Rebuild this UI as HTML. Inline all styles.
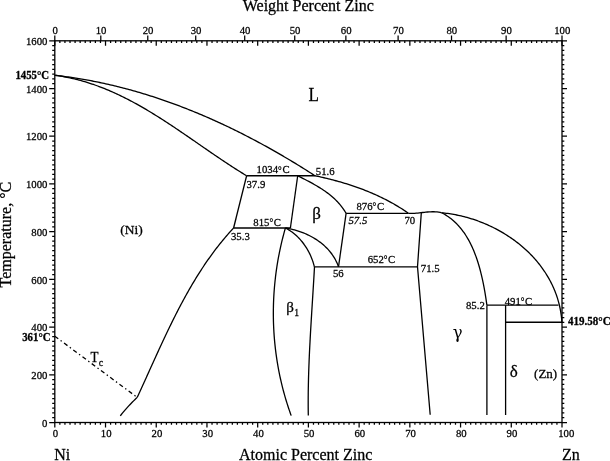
<!DOCTYPE html>
<html><head><meta charset="utf-8"><title>Ni-Zn Phase Diagram</title>
<style>
html,body{margin:0;padding:0;background:#fff;}
body{width:610px;height:461px;overflow:hidden;}
svg{display:block;}
</style></head><body>
<svg width="610" height="461" viewBox="0 0 610 461">
<rect width="610" height="461" fill="#fff"/>
<g fill="none" stroke="#000" stroke-width="1.3" stroke-linejoin="round">
<path d="M54.8,75.3 L56.31,75.47 L57.83,75.65 L59.34,75.83 L60.85,76.01 L62.36,76.2 L63.87,76.39 L65.38,76.59 L66.88,76.8 L68.39,77.01 L69.89,77.22 L71.4,77.44 L72.9,77.66 L74.4,77.89 L75.9,78.13 L77.4,78.36 L78.9,78.61 L80.4,78.86 L81.89,79.11 L83.39,79.37 L84.88,79.63 L86.37,79.89 L87.86,80.16 L89.35,80.44 L90.84,80.72 L92.33,81.01 L93.81,81.3 L95.3,81.59 L96.78,81.89 L98.27,82.19 L99.75,82.5 L101.23,82.81 L102.71,83.13 L104.19,83.45 L105.66,83.78 L107.14,84.11 L108.62,84.44 L110.09,84.78 L111.56,85.13 L113.03,85.47 L114.5,85.83 L115.97,86.18 L117.44,86.54 L118.91,86.91 L120.37,87.28 L121.83,87.65 L123.3,88.03 L124.76,88.41 L126.22,88.8 L127.68,89.19 L129.14,89.59 L130.59,89.99 L132.05,90.39 L133.5,90.8 L134.96,91.21 L136.41,91.63 L137.86,92.05 L139.31,92.47 L140.76,92.9 L142.2,93.33 L143.65,93.77 L145.09,94.21 L146.54,94.65 L147.98,95.1 L149.42,95.56 L150.86,96.01 L152.3,96.47 L153.73,96.94 L155.17,97.41 L156.6,97.88 L158.04,98.36 L159.47,98.84 L160.9,99.32 L162.33,99.81 L163.76,100.3 L165.18,100.79 L166.61,101.29 L168.03,101.8 L169.46,102.3 L170.88,102.81 L172.3,103.33 L173.72,103.85 L175.14,104.37 L176.55,104.89 L177.97,105.42 L179.38,105.96 L180.79,106.49 L182.2,107.03 L183.61,107.58 L185.02,108.12 L186.43,108.67 L187.84,109.23 L189.24,109.79 L190.64,110.35 L192.05,110.91 L193.45,111.48 L194.85,112.05 L196.24,112.63 L197.64,113.21 L199.04,113.79 L200.43,114.38 L201.82,114.97 L203.21,115.56 L204.6,116.15 L205.99,116.75 L207.38,117.36 L208.76,117.96 L210.15,118.57 L211.53,119.18 L212.91,119.8 L214.29,120.42 L215.67,121.04 L217.05,121.66 L218.43,122.29 L219.8,122.93 L221.18,123.56 L222.55,124.2 L223.92,124.84 L225.29,125.48 L226.66,126.13 L228.02,126.78 L229.39,127.44 L230.75,128.09 L232.11,128.75 L233.47,129.41 L234.83,130.08 L236.19,130.75 L237.55,131.42 L238.9,132.1 L240.26,132.77 L241.61,133.45 L242.96,134.14 L244.31,134.82 L245.66,135.51 L247.01,136.21 L248.35,136.9 L249.69,137.6 L251.04,138.3 L252.38,139 L253.72,139.71 L255.06,140.42 L256.39,141.13 L257.73,141.84 L259.06,142.56 L260.39,143.28 L261.72,144 L263.05,144.73 L264.38,145.46 L265.71,146.19 L267.03,146.92 L268.36,147.66 L269.68,148.4 L271,149.14 L272.32,149.88 L273.64,150.63 L274.95,151.38 L276.27,152.13 L277.58,152.88 L278.89,153.64 L280.2,154.4 L281.51,155.16 L282.82,155.92 L284.12,156.69 L285.43,157.45 L286.73,158.22 L288.03,159 L289.33,159.77 L290.63,160.55 L291.92,161.33 L293.22,162.11 L294.51,162.9 L295.8,163.68 L297.1,164.47 L298.38,165.27 L299.67,166.06 L300.96,166.86 L302.24,167.65 L303.52,168.45 L304.81,169.26 L306.09,170.06 L307.36,170.87 L308.64,171.68 L309.91,172.49 L311.19,173.3 L312.46,174.11 L313.73,174.93 L315,175.75"/>
<path d="M54.8,75.3 L56.35,75.51 L57.89,75.73 L59.43,75.97 L60.97,76.21 L62.5,76.47 L64.02,76.74 L65.54,77.02 L67.05,77.32 L68.56,77.62 L70.06,77.94 L71.56,78.27 L73.05,78.61 L74.54,78.96 L76.02,79.32 L77.5,79.7 L78.98,80.08 L80.44,80.48 L81.91,80.88 L83.37,81.3 L84.82,81.72 L86.27,82.16 L87.72,82.61 L89.16,83.06 L90.6,83.53 L92.03,84.01 L93.46,84.49 L94.89,84.99 L96.31,85.49 L97.73,86.01 L99.14,86.53 L100.55,87.06 L101.95,87.6 L103.35,88.15 L104.75,88.71 L106.14,89.28 L107.53,89.85 L108.92,90.44 L110.3,91.03 L111.68,91.63 L113.05,92.24 L114.43,92.85 L115.79,93.48 L117.16,94.11 L118.52,94.75 L119.88,95.39 L121.23,96.05 L122.59,96.71 L123.93,97.38 L125.28,98.05 L126.62,98.73 L127.96,99.42 L129.3,100.11 L130.63,100.81 L131.97,101.52 L133.29,102.23 L134.62,102.95 L135.94,103.68 L137.26,104.41 L138.58,105.14 L139.9,105.89 L141.21,106.63 L142.52,107.39 L143.83,108.14 L145.13,108.91 L146.44,109.68 L147.74,110.45 L149.04,111.23 L150.33,112.01 L151.63,112.79 L152.92,113.58 L154.21,114.38 L155.5,115.18 L156.79,115.98 L158.08,116.79 L159.36,117.6 L160.64,118.41 L161.92,119.23 L163.2,120.05 L164.48,120.88 L165.75,121.71 L167.03,122.54 L168.3,123.37 L169.57,124.21 L170.84,125.05 L172.11,125.89 L173.38,126.73 L174.65,127.58 L175.91,128.43 L177.18,129.28 L178.44,130.13 L179.7,130.99 L180.96,131.84 L182.23,132.7 L183.49,133.56 L184.74,134.42 L186,135.28 L187.26,136.14 L188.52,137.01 L189.78,137.87 L191.03,138.74 L192.29,139.61 L193.54,140.47 L194.8,141.34 L196.05,142.21 L197.31,143.07 L198.56,143.94 L199.82,144.81 L201.07,145.68 L202.33,146.54 L203.58,147.41 L204.83,148.28 L206.09,149.14 L207.34,150.01 L208.6,150.87 L209.85,151.73 L211.11,152.59 L212.37,153.45 L213.62,154.31 L214.88,155.17 L216.14,156.02 L217.39,156.88 L218.65,157.73 L219.91,158.58 L221.17,159.43 L222.43,160.27 L223.69,161.12 L224.96,161.96 L226.22,162.79 L227.48,163.63 L228.75,164.46 L230.02,165.29 L231.28,166.12 L232.55,166.94 L233.82,167.76 L235.09,168.58 L236.37,169.39 L237.64,170.2 L238.91,171 L240.19,171.81 L241.47,172.6 L242.75,173.4 L244.03,174.19 L245.31,174.97 L246.6,175.75"/>
<path d="M246.6,175.75 L315,175.75"/>
<path d="M246.6,175.75 L233.6,228"/>
<path d="M233.6,228 L232.56,229.12 L231.52,230.25 L230.49,231.39 L229.47,232.53 L228.46,233.67 L227.45,234.82 L226.45,235.98 L225.46,237.14 L224.48,238.3 L223.5,239.47 L222.53,240.64 L221.56,241.82 L220.6,243 L219.65,244.19 L218.71,245.38 L217.77,246.57 L216.84,247.77 L215.91,248.97 L214.99,250.18 L214.08,251.39 L213.18,252.61 L212.27,253.83 L211.38,255.05 L210.49,256.28 L209.61,257.51 L208.73,258.75 L207.86,259.99 L207,261.23 L206.14,262.48 L205.29,263.73 L204.44,264.98 L203.6,266.24 L202.76,267.5 L201.93,268.76 L201.1,270.03 L200.28,271.3 L199.46,272.58 L198.65,273.86 L197.85,275.14 L197.04,276.42 L196.25,277.71 L195.46,279 L194.67,280.29 L193.89,281.59 L193.11,282.89 L192.34,284.19 L191.57,285.5 L190.8,286.8 L190.04,288.11 L189.29,289.43 L188.54,290.74 L187.79,292.06 L187.04,293.38 L186.31,294.7 L185.57,296.03 L184.84,297.36 L184.11,298.69 L183.39,300.02 L182.67,301.36 L181.95,302.69 L181.23,304.03 L180.52,305.37 L179.82,306.72 L179.11,308.06 L178.41,309.41 L177.72,310.76 L177.02,312.11 L176.33,313.46 L175.64,314.82 L174.96,316.17 L174.28,317.53 L173.6,318.89 L172.92,320.25 L172.24,321.61 L171.57,322.98 L170.9,324.34 L170.24,325.71 L169.57,327.08 L168.91,328.45 L168.25,329.82 L167.59,331.19 L166.94,332.56 L166.28,333.93 L165.63,335.31 L164.98,336.68 L164.33,338.06 L163.69,339.44 L163.04,340.82 L162.4,342.19 L161.76,343.57 L161.12,344.95 L160.48,346.33 L159.84,347.72 L159.2,349.1 L158.57,350.48 L157.93,351.86 L157.3,353.25 L156.67,354.63 L156.04,356.01 L155.41,357.4 L154.78,358.78 L154.15,360.17 L153.52,361.55 L152.9,362.93 L152.27,364.32 L151.64,365.7 L151.02,367.09 L150.39,368.47 L149.76,369.85 L149.14,371.24 L148.51,372.62 L147.89,374 L147.26,375.38 L146.64,376.77 L146.01,378.15 L145.39,379.53 L144.76,380.91 L144.14,382.29 L143.51,383.67 L142.88,385.04 L142.25,386.42 L141.62,387.8 L141,389.17 L140.37,390.55 L139.74,391.92 L139.1,393.29 L138.47,394.66 L137.84,396.03 L137.2,397.4"/>
<path d="M137.2,397.4 L135.99,398.55 L134.79,399.71 L133.61,400.88 L132.43,402.07 L131.27,403.26 L130.12,404.46 L128.98,405.68 L127.85,406.91 L126.74,408.14 L125.64,409.39 L124.54,410.65 L123.47,411.92 L122.4,413.2 L121.34,414.5 L120.3,415.8"/>
<path d="M54.8,336.2 L137.2,397.4" stroke-dasharray="4.3,2.9,1.4,2.9" stroke-width="1.3"/>
<path d="M233.6,228 L290.4,228"/>
<path d="M297.7,175.75 L290.4,228"/>
<path d="M297.7,175.75 L299.08,176.45 L300.45,177.15 L301.84,177.85 L303.22,178.55 L304.61,179.27 L305.99,179.98 L307.38,180.71 L308.76,181.44 L310.14,182.18 L311.51,182.92 L312.88,183.68 L314.25,184.45 L315.6,185.23 L316.95,186.02 L318.3,186.82 L319.63,187.64 L320.95,188.47 L322.26,189.32 L323.55,190.18 L324.84,191.06 L326.1,191.96 L327.35,192.88 L328.59,193.81 L329.81,194.77 L331.01,195.74 L332.19,196.74 L333.35,197.76 L334.48,198.8 L335.6,199.87 L336.69,200.96 L337.76,202.07 L338.8,203.22 L339.81,204.39 L340.8,205.58 L341.76,206.81 L342.69,208.07 L343.59,209.35 L344.46,210.67 L345.3,212.02 L346.1,213.4"/>
<path d="M315,175.75 L316.5,176.07 L317.99,176.39 L319.49,176.72 L320.98,177.06 L322.48,177.4 L323.97,177.75 L325.46,178.1 L326.95,178.46 L328.44,178.83 L329.93,179.2 L331.41,179.58 L332.9,179.96 L334.38,180.35 L335.86,180.75 L337.34,181.16 L338.81,181.57 L340.29,181.99 L341.76,182.42 L343.23,182.85 L344.7,183.29 L346.17,183.74 L347.63,184.2 L349.09,184.66 L350.55,185.13 L352,185.61 L353.45,186.1 L354.9,186.59 L356.35,187.09 L357.79,187.6 L359.23,188.12 L360.67,188.65 L362.1,189.19 L363.53,189.73 L364.96,190.29 L366.38,190.85 L367.8,191.42 L369.21,192 L370.63,192.59 L372.03,193.18 L373.44,193.79 L374.83,194.41 L376.23,195.03 L377.62,195.67 L379.01,196.31 L380.39,196.97 L381.76,197.63 L383.14,198.3 L384.5,198.99 L385.87,199.68 L387.22,200.39 L388.58,201.1 L389.92,201.82 L391.27,202.56 L392.6,203.3 L393.93,204.06 L395.26,204.83 L396.58,205.6 L397.9,206.39 L399.2,207.19 L400.51,208 L401.8,208.82 L403.1,209.66 L404.38,210.5 L405.66,211.35 L406.93,212.22 L408.2,213.1"/>
<path d="M346.1,213.4 L408.2,213.4"/>
<path d="M408.2,213.4 L409.81,213.46 L411.41,213.47 L413.02,213.42 L414.62,213.34 L416.23,213.21 L417.83,213.06 L419.44,212.89 L421.04,212.71 L422.64,212.52 L424.24,212.34 L425.85,212.16 L427.45,212.01 L429.05,211.89 L430.64,211.8 L432.24,211.75 L433.84,211.75 L435.43,211.81 L437.03,211.94 L438.62,212.14 L440.21,212.43 L441.8,212.8"/>
<path d="M441.8,212.8 L443.29,212.94 L444.79,213.11 L446.28,213.28 L447.77,213.48 L449.27,213.69 L450.76,213.92 L452.25,214.16 L453.74,214.42 L455.23,214.69 L456.72,214.99 L458.2,215.29 L459.68,215.62 L461.17,215.96 L462.64,216.31 L464.12,216.68 L465.59,217.07 L467.06,217.47 L468.53,217.89 L469.99,218.32 L471.45,218.77 L472.91,219.24 L474.36,219.72 L475.81,220.21 L477.25,220.72 L478.69,221.24 L480.13,221.78 L481.55,222.34 L482.98,222.9 L484.39,223.49 L485.81,224.09 L487.21,224.7 L488.61,225.33 L490,225.97 L491.39,226.62 L492.77,227.29 L494.14,227.98 L495.5,228.67 L496.86,229.39 L498.21,230.11 L499.55,230.85 L500.89,231.61 L502.21,232.37 L503.53,233.16 L504.83,233.95 L506.13,234.76 L507.42,235.58 L508.7,236.42 L509.97,237.27 L511.23,238.13 L512.48,239 L513.72,239.89 L514.95,240.79 L516.17,241.71 L517.38,242.63 L518.57,243.57 L519.76,244.52 L520.93,245.49 L522.09,246.47 L523.24,247.46 L524.38,248.46 L525.5,249.47 L526.62,250.5 L527.71,251.54 L528.8,252.59 L529.87,253.66 L530.93,254.73 L531.98,255.82 L533.01,256.92 L534.03,258.03 L535.03,259.15 L536.02,260.29 L536.99,261.43 L537.95,262.59 L538.89,263.76 L539.82,264.94 L540.73,266.13 L541.63,267.33 L542.51,268.55 L543.37,269.77 L544.22,271.01 L545.05,272.26 L545.86,273.51 L546.66,274.78 L547.44,276.06 L548.2,277.35 L548.94,278.65 L549.67,279.96 L550.38,281.28 L551.06,282.62 L551.73,283.96 L552.39,285.31 L553.02,286.67 L553.63,288.04 L554.22,289.43 L554.8,290.82 L555.35,292.22 L555.88,293.63 L556.4,295.05 L556.89,296.48 L557.36,297.92 L557.81,299.37 L558.24,300.83 L558.65,302.3 L559.03,303.78 L559.4,305.26 L559.74,306.76 L560.06,308.26 L560.36,309.78 L560.63,311.3 L560.88,312.83 L561.11,314.37 L561.32,315.92 L561.5,317.48 L561.66,319.05 L561.79,320.62 L561.9,322.2"/>
<path d="M441.8,212.8 L443.18,213.54 L444.52,214.31 L445.84,215.11 L447.13,215.94 L448.39,216.8 L449.62,217.69 L450.82,218.6 L451.99,219.54 L453.14,220.51 L454.26,221.51 L455.35,222.53 L456.42,223.57 L457.46,224.64 L458.47,225.73 L459.46,226.85 L460.43,227.99 L461.37,229.14 L462.29,230.32 L463.18,231.52 L464.05,232.74 L464.9,233.98 L465.73,235.24 L466.53,236.51 L467.32,237.8 L468.08,239.11 L468.82,240.43 L469.55,241.77 L470.25,243.13 L470.93,244.49 L471.59,245.87 L472.24,247.27 L472.87,248.67 L473.48,250.09 L474.07,251.52 L474.64,252.95 L475.2,254.4 L475.75,255.86 L476.27,257.32 L476.78,258.79 L477.28,260.27 L477.76,261.76 L478.23,263.25 L478.68,264.75 L479.12,266.25 L479.55,267.75 L479.96,269.26 L480.37,270.78 L480.76,272.29 L481.13,273.81 L481.5,275.33 L481.85,276.85 L482.2,278.37 L482.53,279.89 L482.85,281.41 L483.17,282.93 L483.47,284.44 L483.76,285.96 L484.05,287.47 L484.33,288.98 L484.59,290.48 L484.86,291.98 L485.11,293.48 L485.35,294.97 L485.59,296.45 L485.83,297.93 L486.05,299.4 L486.27,300.86 L486.49,302.32 L486.7,303.76 L486.9,305.2"/>
<path d="M486.9,305.2 L486.9,415"/>
<path d="M421.3,212.9 L417.5,266.8 L430.2,414.8"/>
<path d="M346.1,213.4 L338.5,266.8"/>
<path d="M314.5,266.8 L417.5,266.8"/>
<path d="M285.4,228 L284.98,229.46 L284.57,230.92 L284.17,232.38 L283.78,233.84 L283.39,235.31 L283.01,236.77 L282.64,238.24 L282.27,239.71 L281.91,241.18 L281.56,242.66 L281.22,244.13 L280.88,245.61 L280.55,247.09 L280.23,248.57 L279.91,250.05 L279.6,251.53 L279.3,253.02 L279.01,254.51 L278.73,255.99 L278.45,257.48 L278.18,258.97 L277.91,260.46 L277.66,261.96 L277.41,263.45 L277.17,264.94 L276.93,266.44 L276.71,267.94 L276.49,269.44 L276.28,270.94 L276.07,272.44 L275.87,273.94 L275.68,275.44 L275.5,276.94 L275.33,278.45 L275.16,279.95 L275,281.46 L274.85,282.96 L274.7,284.47 L274.56,285.98 L274.43,287.48 L274.31,288.99 L274.19,290.5 L274.08,292.01 L273.98,293.52 L273.89,295.03 L273.8,296.54 L273.72,298.06 L273.65,299.57 L273.59,301.08 L273.53,302.59 L273.48,304.11 L273.44,305.62 L273.41,307.13 L273.38,308.64 L273.36,310.16 L273.35,311.67 L273.34,313.18 L273.35,314.7 L273.36,316.21 L273.38,317.72 L273.4,319.24 L273.43,320.75 L273.47,322.26 L273.52,323.77 L273.58,325.29 L273.64,326.8 L273.71,328.31 L273.79,329.82 L273.87,331.33 L273.97,332.84 L274.07,334.35 L274.17,335.86 L274.29,337.37 L274.41,338.88 L274.54,340.38 L274.68,341.89 L274.82,343.4 L274.98,344.9 L275.14,346.41 L275.3,347.91 L275.48,349.41 L275.66,350.92 L275.85,352.42 L276.05,353.92 L276.26,355.42 L276.47,356.92 L276.69,358.41 L276.92,359.91 L277.15,361.4 L277.4,362.9 L277.65,364.39 L277.9,365.88 L278.17,367.37 L278.44,368.86 L278.72,370.35 L279.01,371.83 L279.31,373.32 L279.61,374.8 L279.92,376.28 L280.24,377.76 L280.57,379.24 L280.9,380.72 L281.24,382.2 L281.59,383.67 L281.95,385.14 L282.31,386.61 L282.69,388.08 L283.07,389.55 L283.45,391.01 L283.85,392.47 L284.25,393.94 L284.66,395.4 L285.08,396.85 L285.5,398.31 L285.93,399.76 L286.38,401.21 L286.82,402.66 L287.28,404.11 L287.74,405.55 L288.21,406.99 L288.69,408.43 L289.18,409.87 L289.67,411.31 L290.17,412.74 L290.68,414.17 L291.2,415.6"/>
<path d="M285.4,228 L286.78,228.73 L288.14,229.51 L289.46,230.33 L290.76,231.19 L292.03,232.09 L293.27,233.03 L294.48,234 L295.66,235.01 L296.81,236.06 L297.93,237.14 L299.02,238.25 L300.08,239.4 L301.11,240.57 L302.11,241.77 L303.07,243 L304.01,244.26 L304.91,245.53 L305.78,246.84 L306.62,248.16 L307.42,249.51 L308.19,250.87 L308.93,252.25 L309.64,253.65 L310.31,255.07 L310.94,256.5 L311.54,257.94 L312.11,259.4 L312.64,260.86 L313.13,262.33 L313.59,263.82 L314.01,265.31 L314.4,266.8"/>
<path d="M314.5,266.8 L314.42,268.32 L314.33,269.83 L314.24,271.35 L314.16,272.87 L314.07,274.39 L313.98,275.9 L313.89,277.42 L313.8,278.94 L313.71,280.46 L313.62,281.97 L313.52,283.49 L313.43,285.01 L313.34,286.52 L313.24,288.04 L313.15,289.56 L313.06,291.08 L312.96,292.59 L312.87,294.11 L312.77,295.63 L312.68,297.15 L312.58,298.66 L312.49,300.18 L312.39,301.7 L312.3,303.21 L312.2,304.73 L312.11,306.25 L312.01,307.77 L311.92,309.28 L311.82,310.8 L311.73,312.32 L311.63,313.84 L311.54,315.35 L311.45,316.87 L311.35,318.39 L311.26,319.91 L311.17,321.42 L311.08,322.94 L310.99,324.46 L310.9,325.98 L310.81,327.49 L310.72,329.01 L310.63,330.53 L310.55,332.05 L310.46,333.56 L310.38,335.08 L310.29,336.6 L310.21,338.12 L310.13,339.63 L310.05,341.15 L309.97,342.67 L309.89,344.19 L309.81,345.71 L309.73,347.22 L309.66,348.74 L309.58,350.26 L309.51,351.78 L309.44,353.3 L309.37,354.82 L309.3,356.33 L309.24,357.85 L309.17,359.37 L309.11,360.89 L309.05,362.41 L308.99,363.93 L308.93,365.44 L308.88,366.96 L308.82,368.48 L308.77,370 L308.72,371.52 L308.67,373.04 L308.63,374.56 L308.58,376.08 L308.54,377.6 L308.5,379.12 L308.46,380.63 L308.43,382.15 L308.39,383.67 L308.36,385.19 L308.33,386.71 L308.31,388.23 L308.28,389.75 L308.26,391.27 L308.24,392.79 L308.23,394.31 L308.22,395.83 L308.2,397.35 L308.2,398.87 L308.19,400.39 L308.19,401.91 L308.19,403.43 L308.19,404.95 L308.2,406.47 L308.21,407.99 L308.22,409.52 L308.24,411.04 L308.25,412.56 L308.28,414.08 L308.3,415.6"/>
<path d="M285.4,228 L286.91,228.24 L288.43,228.52 L289.95,228.82 L291.47,229.16 L292.98,229.52 L294.5,229.92 L296.01,230.34 L297.51,230.8 L299.01,231.28 L300.5,231.8 L301.98,232.34 L303.46,232.91 L304.92,233.52 L306.37,234.15 L307.81,234.81 L309.23,235.5 L310.64,236.23 L312.03,236.98 L313.4,237.76 L314.75,238.57 L316.09,239.41 L317.4,240.28 L318.69,241.18 L319.96,242.1 L321.2,243.06 L322.41,244.05 L323.6,245.06 L324.76,246.11 L325.89,247.18 L326.99,248.29 L328.06,249.42 L329.09,250.58 L330.09,251.78 L331.06,253 L331.99,254.25 L332.88,255.53 L333.73,256.83 L334.54,258.17 L335.31,259.54 L336.04,260.93 L336.72,262.35 L337.36,263.81 L337.95,265.29 L338.5,266.8"/>
<path d="M486.9,305.2 L558.4,305.2"/>
<path d="M505.6,305.2 L505.6,415"/>
<path d="M505.6,322.25 L562,322.25"/>
</g>
<path d="M54.8,422.5 v5 M59.87,422.5 v2.3 M64.94,422.5 v2.3 M70.02,422.5 v2.3 M75.09,422.5 v2.3 M80.16,422.5 v2.3 M85.23,422.5 v2.3 M90.3,422.5 v2.3 M95.38,422.5 v2.3 M100.45,422.5 v2.3 M105.52,422.5 v5 M110.59,422.5 v2.3 M115.66,422.5 v2.3 M120.74,422.5 v2.3 M125.81,422.5 v2.3 M130.88,422.5 v2.3 M135.95,422.5 v2.3 M141.02,422.5 v2.3 M146.1,422.5 v2.3 M151.17,422.5 v2.3 M156.24,422.5 v5 M161.31,422.5 v2.3 M166.38,422.5 v2.3 M171.46,422.5 v2.3 M176.53,422.5 v2.3 M181.6,422.5 v2.3 M186.67,422.5 v2.3 M191.74,422.5 v2.3 M196.82,422.5 v2.3 M201.89,422.5 v2.3 M206.96,422.5 v5 M212.03,422.5 v2.3 M217.1,422.5 v2.3 M222.18,422.5 v2.3 M227.25,422.5 v2.3 M232.32,422.5 v2.3 M237.39,422.5 v2.3 M242.46,422.5 v2.3 M247.54,422.5 v2.3 M252.61,422.5 v2.3 M257.68,422.5 v5 M262.75,422.5 v2.3 M267.82,422.5 v2.3 M272.9,422.5 v2.3 M277.97,422.5 v2.3 M283.04,422.5 v2.3 M288.11,422.5 v2.3 M293.18,422.5 v2.3 M298.26,422.5 v2.3 M303.33,422.5 v2.3 M308.4,422.5 v5 M313.47,422.5 v2.3 M318.54,422.5 v2.3 M323.62,422.5 v2.3 M328.69,422.5 v2.3 M333.76,422.5 v2.3 M338.83,422.5 v2.3 M343.9,422.5 v2.3 M348.98,422.5 v2.3 M354.05,422.5 v2.3 M359.12,422.5 v5 M364.19,422.5 v2.3 M369.26,422.5 v2.3 M374.34,422.5 v2.3 M379.41,422.5 v2.3 M384.48,422.5 v2.3 M389.55,422.5 v2.3 M394.62,422.5 v2.3 M399.7,422.5 v2.3 M404.77,422.5 v2.3 M409.84,422.5 v5 M414.91,422.5 v2.3 M419.98,422.5 v2.3 M425.06,422.5 v2.3 M430.13,422.5 v2.3 M435.2,422.5 v2.3 M440.27,422.5 v2.3 M445.34,422.5 v2.3 M450.42,422.5 v2.3 M455.49,422.5 v2.3 M460.56,422.5 v5 M465.63,422.5 v2.3 M470.7,422.5 v2.3 M475.78,422.5 v2.3 M480.85,422.5 v2.3 M485.92,422.5 v2.3 M490.99,422.5 v2.3 M496.06,422.5 v2.3 M501.14,422.5 v2.3 M506.21,422.5 v2.3 M511.28,422.5 v5 M516.35,422.5 v2.3 M521.42,422.5 v2.3 M526.5,422.5 v2.3 M531.57,422.5 v2.3 M536.64,422.5 v2.3 M541.71,422.5 v2.3 M546.78,422.5 v2.3 M551.86,422.5 v2.3 M556.93,422.5 v2.3 M562,422.5 v5 M54.8,40.8 v5 M59.87,40.8 v2.3 M64.94,40.8 v2.3 M70.02,40.8 v2.3 M75.09,40.8 v2.3 M80.16,40.8 v2.3 M85.23,40.8 v2.3 M90.3,40.8 v2.3 M95.38,40.8 v2.3 M100.45,40.8 v2.3 M105.52,40.8 v5 M110.59,40.8 v2.3 M115.66,40.8 v2.3 M120.74,40.8 v2.3 M125.81,40.8 v2.3 M130.88,40.8 v2.3 M135.95,40.8 v2.3 M141.02,40.8 v2.3 M146.1,40.8 v2.3 M151.17,40.8 v2.3 M156.24,40.8 v5 M161.31,40.8 v2.3 M166.38,40.8 v2.3 M171.46,40.8 v2.3 M176.53,40.8 v2.3 M181.6,40.8 v2.3 M186.67,40.8 v2.3 M191.74,40.8 v2.3 M196.82,40.8 v2.3 M201.89,40.8 v2.3 M206.96,40.8 v5 M212.03,40.8 v2.3 M217.1,40.8 v2.3 M222.18,40.8 v2.3 M227.25,40.8 v2.3 M232.32,40.8 v2.3 M237.39,40.8 v2.3 M242.46,40.8 v2.3 M247.54,40.8 v2.3 M252.61,40.8 v2.3 M257.68,40.8 v5 M262.75,40.8 v2.3 M267.82,40.8 v2.3 M272.9,40.8 v2.3 M277.97,40.8 v2.3 M283.04,40.8 v2.3 M288.11,40.8 v2.3 M293.18,40.8 v2.3 M298.26,40.8 v2.3 M303.33,40.8 v2.3 M308.4,40.8 v5 M313.47,40.8 v2.3 M318.54,40.8 v2.3 M323.62,40.8 v2.3 M328.69,40.8 v2.3 M333.76,40.8 v2.3 M338.83,40.8 v2.3 M343.9,40.8 v2.3 M348.98,40.8 v2.3 M354.05,40.8 v2.3 M359.12,40.8 v5 M364.19,40.8 v2.3 M369.26,40.8 v2.3 M374.34,40.8 v2.3 M379.41,40.8 v2.3 M384.48,40.8 v2.3 M389.55,40.8 v2.3 M394.62,40.8 v2.3 M399.7,40.8 v2.3 M404.77,40.8 v2.3 M409.84,40.8 v5 M414.91,40.8 v2.3 M419.98,40.8 v2.3 M425.06,40.8 v2.3 M430.13,40.8 v2.3 M435.2,40.8 v2.3 M440.27,40.8 v2.3 M445.34,40.8 v2.3 M450.42,40.8 v2.3 M455.49,40.8 v2.3 M460.56,40.8 v5 M465.63,40.8 v2.3 M470.7,40.8 v2.3 M475.78,40.8 v2.3 M480.85,40.8 v2.3 M485.92,40.8 v2.3 M490.99,40.8 v2.3 M496.06,40.8 v2.3 M501.14,40.8 v2.3 M506.21,40.8 v2.3 M511.28,40.8 v5 M516.35,40.8 v2.3 M521.42,40.8 v2.3 M526.5,40.8 v2.3 M531.57,40.8 v2.3 M536.64,40.8 v2.3 M541.71,40.8 v2.3 M546.78,40.8 v2.3 M551.86,40.8 v2.3 M556.93,40.8 v2.3 M562,40.8 v5 M54.8,40.8 v-5.2 M100.8,40.8 v-5.2 M147.77,40.8 v-5.2 M195.72,40.8 v-5.2 M244.7,40.8 v-5.2 M294.73,40.8 v-5.2 M345.86,40.8 v-5.2 M398.11,40.8 v-5.2 M451.52,40.8 v-5.2 M506.14,40.8 v-5.2 M562,40.8 v-5.2 M54.8,422.5 h-5.6 M54.8,417.73 h-2.6 M54.8,412.96 h-2.6 M54.8,408.19 h-2.6 M54.8,403.42 h-2.6 M54.8,398.64 h-2.6 M54.8,393.87 h-2.6 M54.8,389.1 h-2.6 M54.8,384.33 h-2.6 M54.8,379.56 h-2.6 M54.8,374.79 h-5.6 M54.8,370.02 h-2.6 M54.8,365.25 h-2.6 M54.8,360.47 h-2.6 M54.8,355.7 h-2.6 M54.8,350.93 h-2.6 M54.8,346.16 h-2.6 M54.8,341.39 h-2.6 M54.8,336.62 h-2.6 M54.8,331.85 h-2.6 M54.8,327.07 h-5.6 M54.8,322.3 h-2.6 M54.8,317.53 h-2.6 M54.8,312.76 h-2.6 M54.8,307.99 h-2.6 M54.8,303.22 h-2.6 M54.8,298.45 h-2.6 M54.8,293.68 h-2.6 M54.8,288.9 h-2.6 M54.8,284.13 h-2.6 M54.8,279.36 h-5.6 M54.8,274.59 h-2.6 M54.8,269.82 h-2.6 M54.8,265.05 h-2.6 M54.8,260.28 h-2.6 M54.8,255.51 h-2.6 M54.8,250.74 h-2.6 M54.8,245.96 h-2.6 M54.8,241.19 h-2.6 M54.8,236.42 h-2.6 M54.8,231.65 h-5.6 M54.8,226.88 h-2.6 M54.8,222.11 h-2.6 M54.8,217.34 h-2.6 M54.8,212.56 h-2.6 M54.8,207.79 h-2.6 M54.8,203.02 h-2.6 M54.8,198.25 h-2.6 M54.8,193.48 h-2.6 M54.8,188.71 h-2.6 M54.8,183.94 h-5.6 M54.8,179.17 h-2.6 M54.8,174.4 h-2.6 M54.8,169.62 h-2.6 M54.8,164.85 h-2.6 M54.8,160.08 h-2.6 M54.8,155.31 h-2.6 M54.8,150.54 h-2.6 M54.8,145.77 h-2.6 M54.8,141 h-2.6 M54.8,136.23 h-5.6 M54.8,131.45 h-2.6 M54.8,126.68 h-2.6 M54.8,121.91 h-2.6 M54.8,117.14 h-2.6 M54.8,112.37 h-2.6 M54.8,107.6 h-2.6 M54.8,102.83 h-2.6 M54.8,98.06 h-2.6 M54.8,93.28 h-2.6 M54.8,88.51 h-5.6 M54.8,83.74 h-2.6 M54.8,78.97 h-2.6 M54.8,74.2 h-2.6 M54.8,69.43 h-2.6 M54.8,64.66 h-2.6 M54.8,59.88 h-2.6 M54.8,55.11 h-2.6 M54.8,50.34 h-2.6 M54.8,45.57 h-2.6 M54.8,40.8 h-5.6 M562,422.5 h5 M562,417.73 h2.3 M562,412.96 h2.3 M562,408.19 h2.3 M562,403.42 h2.3 M562,398.64 h2.3 M562,393.87 h2.3 M562,389.1 h2.3 M562,384.33 h2.3 M562,379.56 h2.3 M562,374.79 h5 M562,370.02 h2.3 M562,365.25 h2.3 M562,360.47 h2.3 M562,355.7 h2.3 M562,350.93 h2.3 M562,346.16 h2.3 M562,341.39 h2.3 M562,336.62 h2.3 M562,331.85 h2.3 M562,327.07 h5 M562,322.3 h2.3 M562,317.53 h2.3 M562,312.76 h2.3 M562,307.99 h2.3 M562,303.22 h2.3 M562,298.45 h2.3 M562,293.68 h2.3 M562,288.9 h2.3 M562,284.13 h2.3 M562,279.36 h5 M562,274.59 h2.3 M562,269.82 h2.3 M562,265.05 h2.3 M562,260.28 h2.3 M562,255.51 h2.3 M562,250.74 h2.3 M562,245.96 h2.3 M562,241.19 h2.3 M562,236.42 h2.3 M562,231.65 h5 M562,226.88 h2.3 M562,222.11 h2.3 M562,217.34 h2.3 M562,212.56 h2.3 M562,207.79 h2.3 M562,203.02 h2.3 M562,198.25 h2.3 M562,193.48 h2.3 M562,188.71 h2.3 M562,183.94 h5 M562,179.17 h2.3 M562,174.4 h2.3 M562,169.62 h2.3 M562,164.85 h2.3 M562,160.08 h2.3 M562,155.31 h2.3 M562,150.54 h2.3 M562,145.77 h2.3 M562,141 h2.3 M562,136.23 h5 M562,131.45 h2.3 M562,126.68 h2.3 M562,121.91 h2.3 M562,117.14 h2.3 M562,112.37 h2.3 M562,107.6 h2.3 M562,102.83 h2.3 M562,98.06 h2.3 M562,93.28 h2.3 M562,88.51 h5 M562,83.74 h2.3 M562,78.97 h2.3 M562,74.2 h2.3 M562,69.43 h2.3 M562,64.66 h2.3 M562,59.88 h2.3 M562,55.11 h2.3 M562,50.34 h2.3 M562,45.57 h2.3 M562,40.8 h5" fill="none" stroke="#000" stroke-width="1.25"/>
<rect x="54.8" y="40.8" width="507.2" height="381.7" fill="none" stroke="#000" stroke-width="1.3"/>
<g font-family="'Liberation Serif', 'Times New Roman', serif" fill="#000">
<text transform="translate(55.5,436.8) scale(0.96,1)" font-size="11.2" text-anchor="middle" stroke="#000" stroke-width="0.26">0</text>
<text transform="translate(106.22,436.8) scale(0.96,1)" font-size="11.2" text-anchor="middle" stroke="#000" stroke-width="0.26">10</text>
<text transform="translate(156.94,436.8) scale(0.96,1)" font-size="11.2" text-anchor="middle" stroke="#000" stroke-width="0.26">20</text>
<text transform="translate(207.66,436.8) scale(0.96,1)" font-size="11.2" text-anchor="middle" stroke="#000" stroke-width="0.26">30</text>
<text transform="translate(258.38,436.8) scale(0.96,1)" font-size="11.2" text-anchor="middle" stroke="#000" stroke-width="0.26">40</text>
<text transform="translate(309.1,436.8) scale(0.96,1)" font-size="11.2" text-anchor="middle" stroke="#000" stroke-width="0.26">50</text>
<text transform="translate(359.82,436.8) scale(0.96,1)" font-size="11.2" text-anchor="middle" stroke="#000" stroke-width="0.26">60</text>
<text transform="translate(410.54,436.8) scale(0.96,1)" font-size="11.2" text-anchor="middle" stroke="#000" stroke-width="0.26">70</text>
<text transform="translate(461.26,436.8) scale(0.96,1)" font-size="11.2" text-anchor="middle" stroke="#000" stroke-width="0.26">80</text>
<text transform="translate(511.98,436.8) scale(0.96,1)" font-size="11.2" text-anchor="middle" stroke="#000" stroke-width="0.26">90</text>
<text transform="translate(566.3,436.8) scale(0.96,1)" font-size="11.2" text-anchor="middle" stroke="#000" stroke-width="0.26">100</text>
<text transform="translate(55.1,33.8) scale(0.96,1)" font-size="11.2" text-anchor="middle" stroke="#000" stroke-width="0.26">0</text>
<text transform="translate(101.1,33.8) scale(0.96,1)" font-size="11.2" text-anchor="middle" stroke="#000" stroke-width="0.26">10</text>
<text transform="translate(148.07,33.8) scale(0.96,1)" font-size="11.2" text-anchor="middle" stroke="#000" stroke-width="0.26">20</text>
<text transform="translate(196.02,33.8) scale(0.96,1)" font-size="11.2" text-anchor="middle" stroke="#000" stroke-width="0.26">30</text>
<text transform="translate(245,33.8) scale(0.96,1)" font-size="11.2" text-anchor="middle" stroke="#000" stroke-width="0.26">40</text>
<text transform="translate(295.03,33.8) scale(0.96,1)" font-size="11.2" text-anchor="middle" stroke="#000" stroke-width="0.26">50</text>
<text transform="translate(346.16,33.8) scale(0.96,1)" font-size="11.2" text-anchor="middle" stroke="#000" stroke-width="0.26">60</text>
<text transform="translate(398.41,33.8) scale(0.96,1)" font-size="11.2" text-anchor="middle" stroke="#000" stroke-width="0.26">70</text>
<text transform="translate(451.82,33.8) scale(0.96,1)" font-size="11.2" text-anchor="middle" stroke="#000" stroke-width="0.26">80</text>
<text transform="translate(506.44,33.8) scale(0.96,1)" font-size="11.2" text-anchor="middle" stroke="#000" stroke-width="0.26">90</text>
<text transform="translate(562.3,33.8) scale(0.96,1)" font-size="11.2" text-anchor="middle" stroke="#000" stroke-width="0.26">100</text>
<text transform="translate(47.4,426.7) scale(0.96,1)" font-size="11.2" text-anchor="end" stroke="#000" stroke-width="0.26">0</text>
<text transform="translate(47.4,378.99) scale(0.96,1)" font-size="11.2" text-anchor="end" stroke="#000" stroke-width="0.26">200</text>
<text transform="translate(47.4,331.27) scale(0.96,1)" font-size="11.2" text-anchor="end" stroke="#000" stroke-width="0.26">400</text>
<text transform="translate(47.4,283.56) scale(0.96,1)" font-size="11.2" text-anchor="end" stroke="#000" stroke-width="0.26">600</text>
<text transform="translate(47.4,235.85) scale(0.96,1)" font-size="11.2" text-anchor="end" stroke="#000" stroke-width="0.26">800</text>
<text transform="translate(47.4,188.14) scale(0.96,1)" font-size="11.2" text-anchor="end" stroke="#000" stroke-width="0.26">1000</text>
<text transform="translate(47.4,140.43) scale(0.96,1)" font-size="11.2" text-anchor="end" stroke="#000" stroke-width="0.26">1200</text>
<text transform="translate(47.4,92.71) scale(0.96,1)" font-size="11.2" text-anchor="end" stroke="#000" stroke-width="0.26">1400</text>
<text transform="translate(47.4,45) scale(0.96,1)" font-size="11.2" text-anchor="end" stroke="#000" stroke-width="0.26">1600</text>
<text x="308.3" y="10.9" font-size="16" text-anchor="middle" stroke="#000" stroke-width="0.26">Weight Percent Zinc</text>
<text x="305.7" y="459.5" font-size="16" text-anchor="middle" stroke="#000" stroke-width="0.26">Atomic Percent Zinc</text>
<text x="54.3" y="460.2" font-size="16" text-anchor="start" stroke="#000" stroke-width="0.26">Ni</text>
<text x="562" y="460.3" font-size="16" text-anchor="start" stroke="#000" stroke-width="0.26">Zn</text>
<text transform="translate(10.9,234.6) rotate(-90)" font-size="16" text-anchor="middle" stroke="#000" stroke-width="0.26">Temperature, °C</text>
<text transform="translate(49.1,79) scale(0.9,1)" font-size="12" text-anchor="end" stroke="#000" stroke-width="0.3" font-weight="bold">1455°C</text>
<text transform="translate(50.5,341.1) scale(0.9,1)" font-size="12" text-anchor="end" stroke="#000" stroke-width="0.3" font-weight="bold">361°C</text>
<text transform="translate(567.9,324.9) scale(0.92,1)" font-size="12" text-anchor="start" stroke="#000" stroke-width="0.3" font-weight="bold">419.58°C</text>
<text transform="translate(256.6,173.2) scale(0.96,1)" font-size="11.2" text-anchor="start" stroke="#000" stroke-width="0.26">1034<tspan font-size="9.52" dy="0.34">°</tspan><tspan dy="-0.34" dx="0.67">C</tspan></text>
<text transform="translate(246.5,188.4) scale(0.96,1)" font-size="11.2" text-anchor="start" stroke="#000" stroke-width="0.26">37.9</text>
<text transform="translate(315.8,174.8) scale(0.96,1)" font-size="11.2" text-anchor="start" stroke="#000" stroke-width="0.26">51.6</text>
<text transform="translate(253.3,225.5) scale(0.96,1)" font-size="11.2" text-anchor="start" stroke="#000" stroke-width="0.26">815<tspan font-size="9.52" dy="0.34">°</tspan><tspan dy="-0.34" dx="0.67">C</tspan></text>
<text transform="translate(231,240.4) scale(0.96,1)" font-size="11.2" text-anchor="start" stroke="#000" stroke-width="0.26">35.3</text>
<text transform="translate(356.5,209.6) scale(0.96,1)" font-size="11.2" text-anchor="start" stroke="#000" stroke-width="0.26">876<tspan font-size="9.52" dy="0.34">°</tspan><tspan dy="-0.34" dx="0.67">C</tspan></text>
<text transform="translate(348.5,223.9) scale(0.96,1)" font-size="11.2" text-anchor="start" stroke="#000" stroke-width="0.26" font-style="italic">57.5</text>
<text transform="translate(404.5,224.4) scale(0.96,1)" font-size="11.2" text-anchor="start" stroke="#000" stroke-width="0.26">70</text>
<text transform="translate(367.7,263.1) scale(0.96,1)" font-size="11.2" text-anchor="start" stroke="#000" stroke-width="0.26">652<tspan font-size="9.52" dy="0.34">°</tspan><tspan dy="-0.34" dx="0.67">C</tspan></text>
<text transform="translate(333,277.2) scale(0.96,1)" font-size="11.2" text-anchor="start" stroke="#000" stroke-width="0.26">56</text>
<text transform="translate(420.8,271.8) scale(0.96,1)" font-size="11.2" text-anchor="start" stroke="#000" stroke-width="0.26">71.5</text>
<text transform="translate(466,309.2) scale(0.96,1)" font-size="11.2" text-anchor="start" stroke="#000" stroke-width="0.26">85.2</text>
<text transform="translate(504.7,304.8) scale(0.96,1)" font-size="11.2" text-anchor="start" stroke="#000" stroke-width="0.26">491<tspan font-size="9.52" dy="0.34">°</tspan><tspan dy="-0.34" dx="0.67">C</tspan></text>
<text transform="translate(308.6,100.5) scale(0.95,1)" font-size="18" text-anchor="start" stroke="#000" stroke-width="0.26">L</text>
<text x="120.3" y="234.1" font-size="13.5" text-anchor="start" stroke="#000" stroke-width="0.26">(Ni)</text>
<text x="316.5" y="218.5" font-size="17" text-anchor="middle" stroke="#000" stroke-width="0.26">β</text>
<text x="290" y="312.3" font-size="15" text-anchor="middle" stroke="#000" stroke-width="0.26">β</text>
<text transform="translate(296.7,315.5) scale(0.96,1)" font-size="10" text-anchor="middle" stroke="#000" stroke-width="0.26">1</text>
<text x="452.7" y="337.6" font-size="16.5" text-anchor="start" font-family="DejaVu Serif">γ</text>
<text x="513.8" y="376.8" font-size="17" text-anchor="middle" stroke="#000" stroke-width="0.26">δ</text>
<text x="534.1" y="378.2" font-size="13" text-anchor="start" stroke="#000" stroke-width="0.26">(Zn)</text>
<text transform="translate(90.4,361.5) scale(0.96,1)" font-size="13.6" text-anchor="start" stroke="#000" stroke-width="0.26">T</text>
<text transform="translate(98.7,365.9) scale(0.92,1)" font-size="11" text-anchor="start" stroke="#000" stroke-width="0.26">c</text>
</g>
</svg>
</body></html>
